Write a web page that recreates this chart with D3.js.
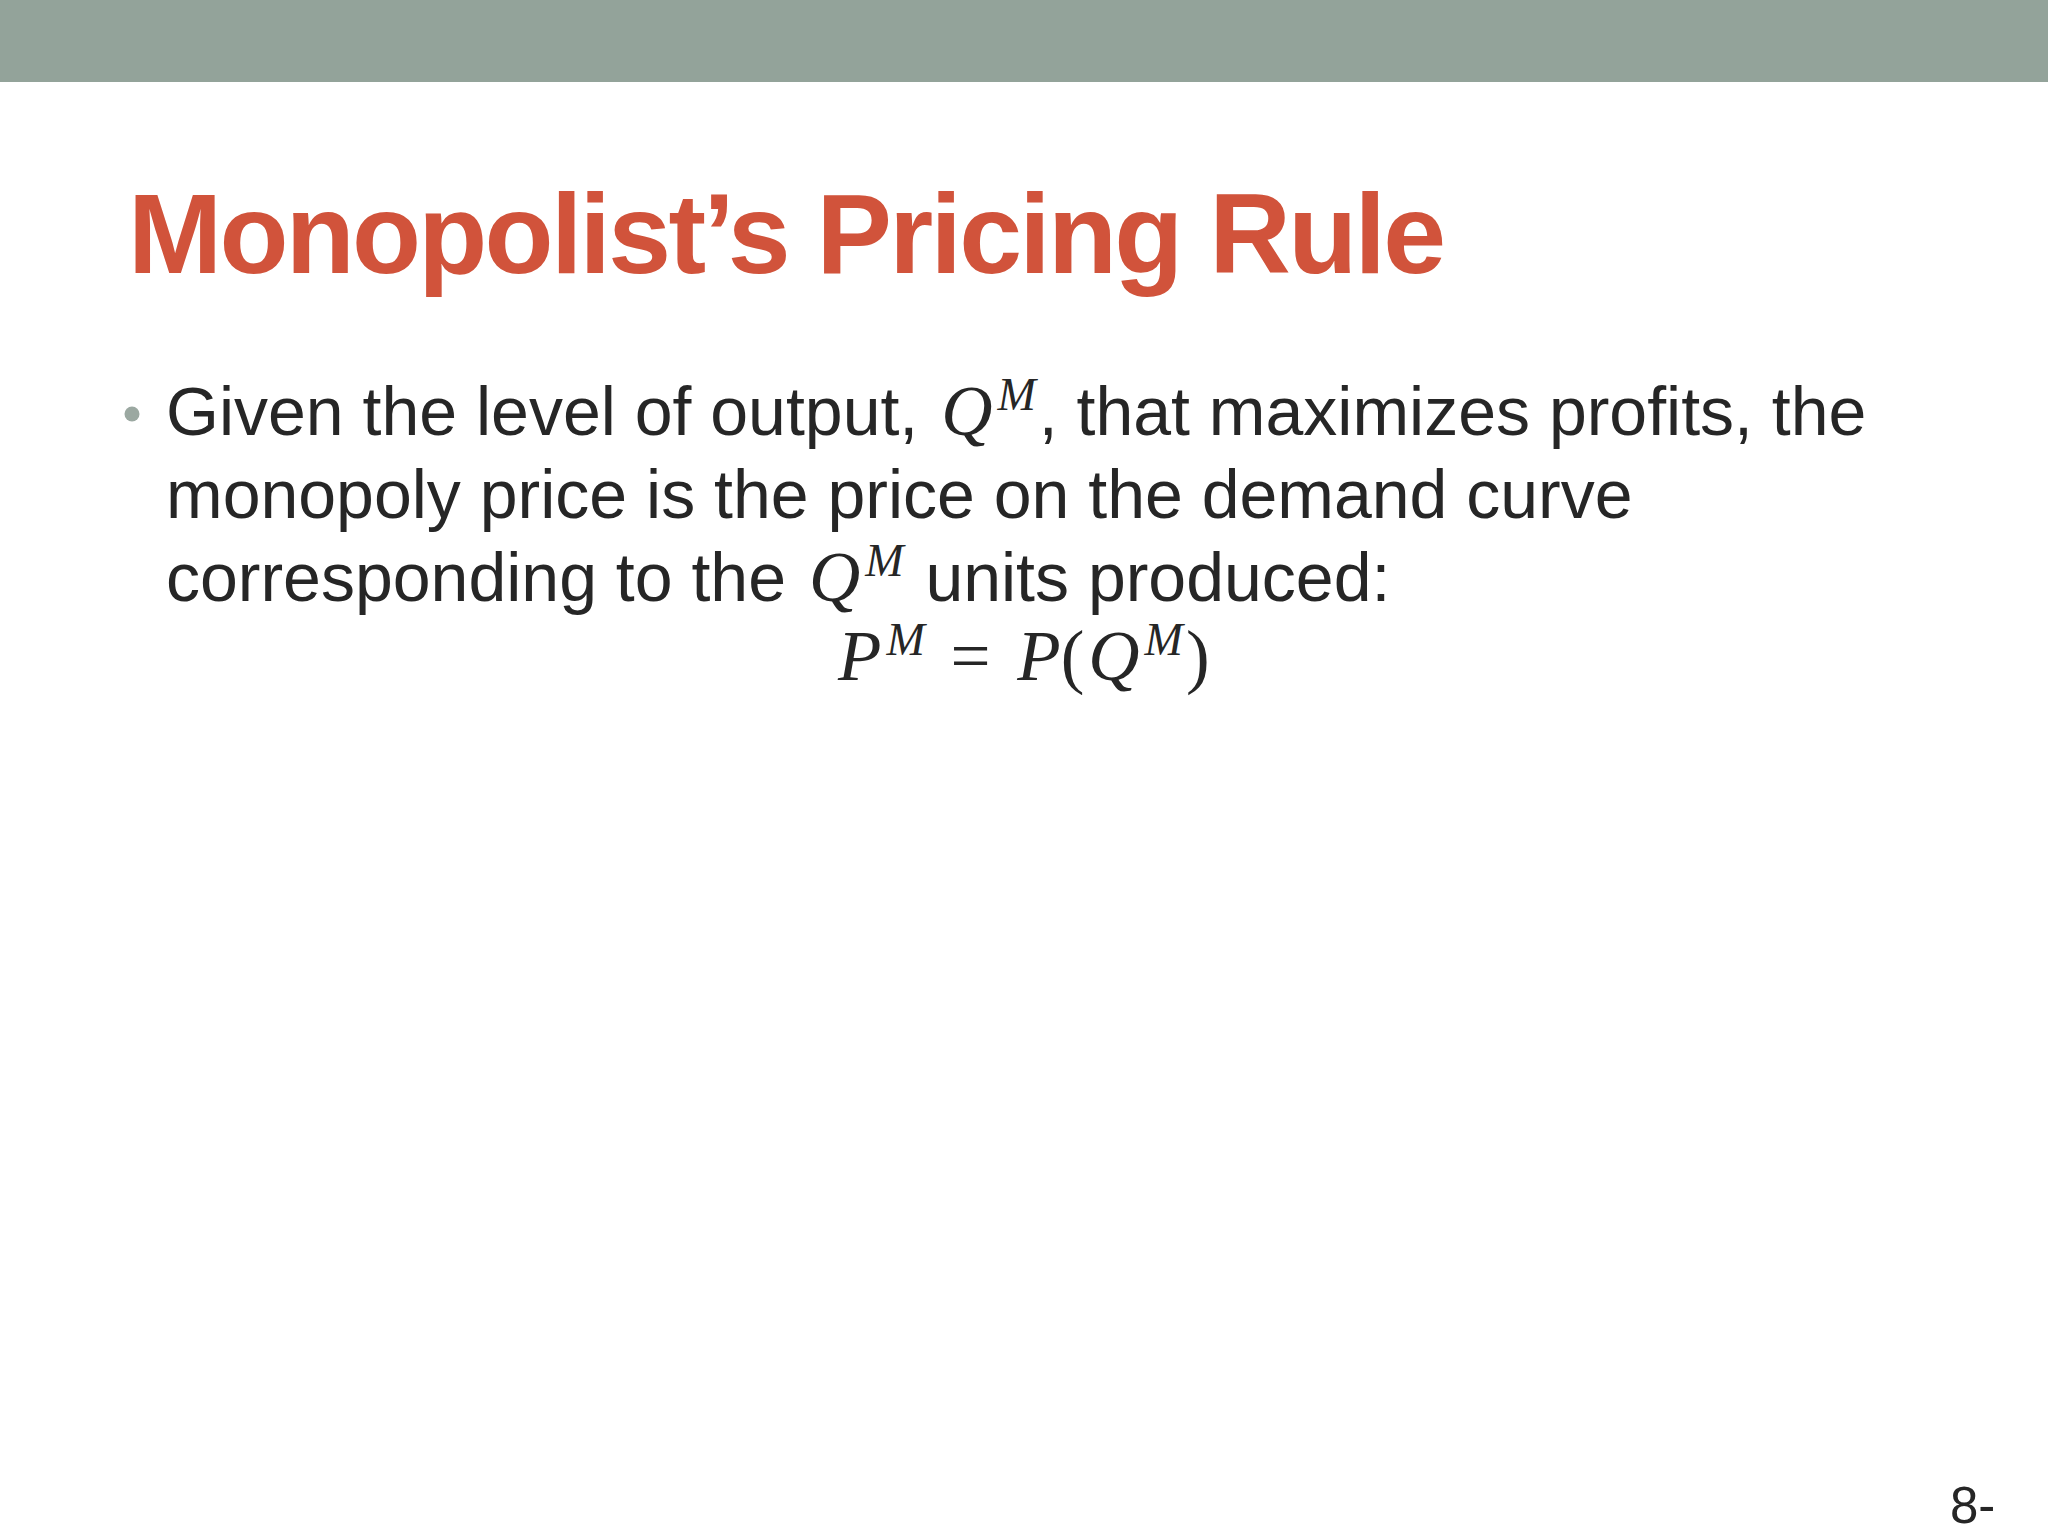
<!DOCTYPE html>
<html>
<head>
<meta charset="utf-8">
<script src="https://cdn.jsdelivr.net/npm/d3@7"></script>
<style>
  html, body { margin: 0; padding: 0; background: #ffffff; }
  svg { display: block; }
</style>
</head>
<body>
<div id="slide"></div>
<script>
const W = 2048, H = 1536;

// slide content
const titleText = "Monopolist\u2019s Pricing Rule";
const pageLabel = "8-";
// each body line is a list of segments: plain text, math letters, superscripts
const bodyLine1 = [
  { t: "Given the level of output, " },
  { t: "Q", math: true },
  { t: "M", sup: true },
  { t: ", that maximizes profits, the" }
];
const bodyLine2 = [
  { t: "monopoly price is the price on the demand curve" }
];
const bodyLine3 = [
  { t: "corresponding to the " },
  { t: "Q", math: true },
  { t: "M", sup: true },
  { t: " units produced:" }
];
const formulaLine = [
  { t: "P", math: true },
  { t: "M", sup: true },
  { t: " = ", op: true, pad: 5 },
  { t: "P", math: true },
  { t: "(", op: true },
  { t: "Q", math: true },
  { t: "M", sup: true },
  { t: ")", op: true }
];
const bodyLines = [bodyLine1, bodyLine2, bodyLine3];

const colors = { bar: "#93a39a", title: "#d1533b", text: "#262626", bullet: "#9ba8a1" };
const sans = "'Liberation Sans', Arial, sans-serif";
const serif = "'Liberation Serif', 'Times New Roman', serif";

const svg = d3.select("#slide").append("svg")
  .attr("width", W)
  .attr("height", H);

svg.append("rect")
  .attr("x", 0).attr("y", 0)
  .attr("width", W).attr("height", H)
  .attr("fill", "#ffffff");

// top band
svg.append("rect")
  .attr("x", 0).attr("y", 0)
  .attr("width", W).attr("height", 82)
  .attr("fill", colors.bar);

// title (the slide renders it a bit tighter than the font does)
svg.append("text")
  .attr("x", 128)
  .attr("y", 273)
  .attr("font-family", sans)
  .attr("font-weight", "bold")
  .attr("font-size", 113)
  .attr("fill", colors.title)
  .attr("textLength", 1318)
  .attr("lengthAdjust", "spacing")
  .text(titleText);

// bullet
svg.append("circle")
  .attr("cx", 132)
  .attr("cy", 414)
  .attr("r", 7.5)
  .attr("fill", colors.bullet);

// lay out a line of segments left to right, measuring each piece
function drawLine(segs, x0, baseline) {
  const g = svg.append("g");
  let x = x0;
  segs.forEach(s => {
    const t = g.append("text")
      .attr("y", s.sup ? baseline - 25 : baseline)
      .attr("fill", colors.text)
      .style("white-space", "pre")
      .text(s.t);
    if (s.sup) {
      t.attr("font-family", serif).attr("font-style", "italic").attr("font-size", 46);
      x += 5;
    } else if (s.math) {
      t.attr("font-family", serif).attr("font-style", "italic").attr("font-size", 71);
      x += 4;
    } else if (s.op) {
      t.attr("font-family", serif).attr("font-size", 71);
    } else {
      t.attr("font-family", sans).attr("font-size", 68);
    }
    x += s.pad || 0;
    t.attr("x", x);
    x += t.node().getComputedTextLength() + (s.pad || 0);
    if (s.sup) x += 3;
  });
  return g;
}

const lineGap = 83;
bodyLines.forEach((segs, i) => drawLine(segs, 166, 435 + i * lineGap));
drawLine(formulaLine, 834, 680);

// page number
svg.append("text")
  .attr("x", 1950)
  .attr("y", 1523)
  .attr("font-family", sans)
  .attr("font-size", 51)
  .attr("fill", colors.text)
  .text(pageLabel);
</script>
</body>
</html>
